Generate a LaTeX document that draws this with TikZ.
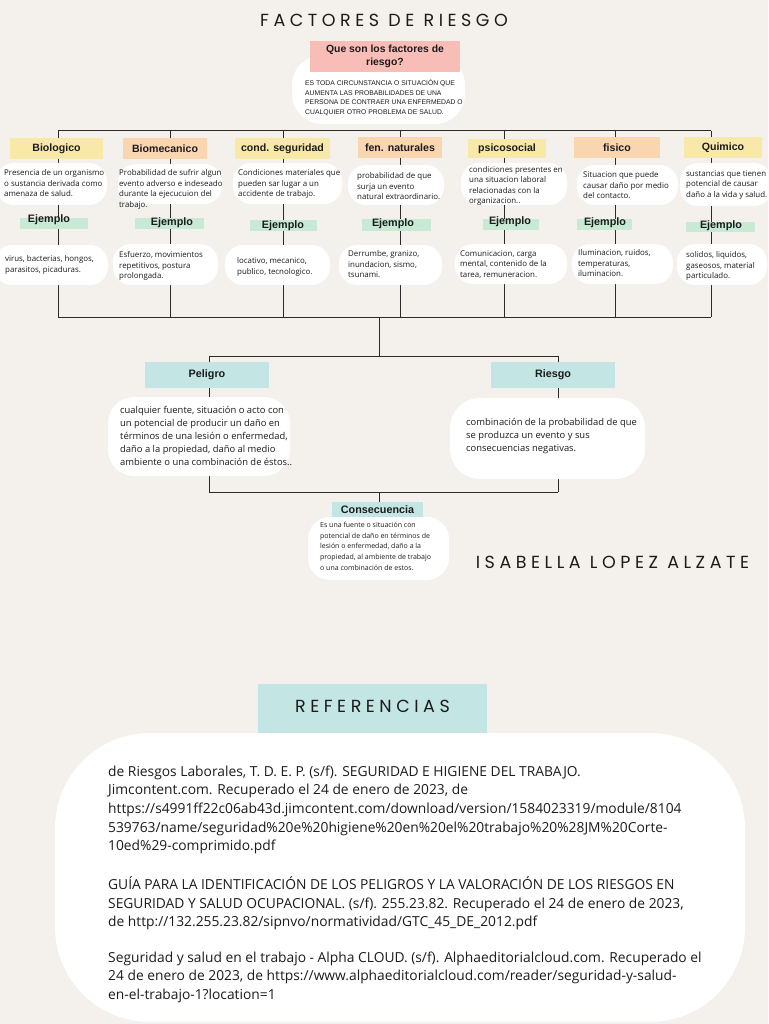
\documentclass[tikz,border=0pt]{standalone}
\usepackage{fontspec}
\setmainfont{Open Sans}
\newfontfamily\labfont{Liberation Sans}
\newfontfamily\widefont[LetterSpace=26]{Poppins}
\definecolor{bg}{HTML}{F4F0EB}
\definecolor{yel}{HTML}{F8E9A9}
\definecolor{pch}{HTML}{F9D5B0}
\definecolor{pnk}{HTML}{F8BDB6}
\definecolor{mnt}{HTML}{C8EAD5}
\definecolor{tel}{HTML}{C3E5E3}
\definecolor{lnc}{HTML}{2A2A2A}
\definecolor{ink}{HTML}{1C1C1C}
\newcommand{\mkbox}[7]{\node[#6, minimum width={#4-#2}, minimum height={#5-#3}] (#1) at ({(#2+#4)/2},{(#3+#5)/2}) {#7};}
\tikzset{
  ln/.style={draw=lnc, line width=1pt},
  cat/.style={inner sep=0, text=ink, font=\labfont\bfseries\fontsize{10.6}{12}\selectfont},
  lab/.style={inner sep=0, text=ink, font=\labfont\bfseries\fontsize{10.8}{12}\selectfont},
  blob/.style={fill=white, inner sep=0, rounded corners=18pt},
  ejbox/.style={fill=mnt, inner sep=0},
  ejtext/.style={inner sep=0, text=ink, font=\labfont\bfseries\fontsize{10.8}{12}\selectfont},
  txt/.style={inner sep=0, anchor=north west, align=left, text=ink, font=\fontsize{7.9}{10.6}\selectfont},
  midtxt/.style={inner sep=0, anchor=north west, align=left, text=ink, font=\fontsize{9.4}{13}\selectfont},
  smtxt/.style={inner sep=0, anchor=north west, align=left, text=ink, font=\fontsize{7}{10.7}\selectfont},
  captxt/.style={inner sep=0, anchor=north west, align=left, text=ink, font=\labfont\fontsize{6.8}{9.6}\selectfont},
  reftxt/.style={inner sep=0, anchor=north west, align=left, text=ink, font=\fontsize{13.8}{18.6}\selectfont},
  wide/.style={inner sep=0, text=ink, font=\widefont\fontsize{17.5}{19}\selectfont},
}
\begin{document}
\begin{tikzpicture}[x=1pt,y=-1pt]
\fill[bg] (0,0) rectangle (768,1024);
\useasboundingbox (0,0) rectangle (768,1024);

% ---------- connector coordinates ----------
\foreach \i/\x in {1/58,2/170,3/283,4/400,5/504,6/615,7/711}{
  \coordinate (tb\i) at (\x,131);
  \coordinate (bb\i) at (\x,317);
}
\coordinate (mid1) at (379,317);
\coordinate (mid2) at (379,356);
\coordinate (hL) at (209,356);
\coordinate (hR) at (558,356);
\coordinate (gL) at (209,492);
\coordinate (gR) at (558,492);
\coordinate (gM) at (379,492);

\draw[ln] (tb1) -- (tb7);
\draw[ln] (bb1) -- (bb7);
\foreach \i in {1,...,7}{ \draw[ln] (tb\i) -- (bb\i); }
\draw[ln] (mid1) -- (mid2);
\draw[ln] (hL) -- (hR);
\draw[ln] (hL) -- (gL);
\draw[ln] (hR) -- (gR);
\draw[ln] (gL) -- (gR);

% ---------- title ----------
\node[wide] (title) at (384,20) {FACTORES DE RIESGO};

% ---------- definition ----------
\mkbox{defblob}{292}{55}{465}{124}{blob, rounded corners=30pt}{}
\mkbox{q}{310}{41}{460}{72}{fill=pnk, inner sep=0, align=center, text=ink, font=\labfont\bfseries\fontsize{10.4}{13.5}\selectfont}{Que son los factores de\\riesgo?}
\node[captxt] (deft) at (305,79.5) {ES TODA CIRCUNSTANCIA O SITUACIÓN QUE\\AUMENTA LAS PROBABILIDADES DE UNA\\PERSONA DE CONTRAER UNA ENFERMEDAD O\\CUALQUIER OTRO PROBLEMA DE SALUD.};

% ---------- categories ----------
\mkbox{c1}{10}{138}{103}{159}{cat, fill=yel}{Biologico}
\mkbox{c2}{123}{138}{207}{159}{cat, fill=pch}{Biomecanico}
\mkbox{c3}{235}{138}{330}{159}{cat, fill=yel}{cond. seguridad}
\mkbox{c4}{358}{137}{442}{158}{cat, fill=pch}{fen. naturales}
\mkbox{c5}{468}{139}{546}{158}{cat, fill=yel}{psicosocial}
\mkbox{c6}{574}{137}{660}{158}{cat, fill=pch}{fisico}
\mkbox{c7}{684}{137}{762}{158}{cat, fill=yel}{Quimico}

% ---------- descriptions ----------
\mkbox{d1}{-4}{163}{107}{205}{blob}{}
\mkbox{d2}{118}{164}{222}{204}{blob}{}
\mkbox{d3}{233}{163}{342}{204}{blob}{}
\mkbox{d4}{348}{165}{444}{205}{blob}{}
\mkbox{d5}{461}{163}{567}{205}{blob}{}
\mkbox{d6}{577}{165}{678}{205}{blob}{}
\mkbox{d7}{680}{163}{772}{206}{blob}{}
\node[txt] (d1t) at (4,169.4) {Presencia de un organismo\\o sustancia derivada como\\amenaza de salud.};
\node[txt] (d2t) at (119,169.4) {Probabilidad de sufrir algun\\evento adverso e indeseado\\durante la ejecucuion del\\trabajo.};
\node[txt] (d3t) at (238,169.4) {Condiciones materiales que\\pueden sar lugar a un\\accidente de trabajo.};
\node[txt] (d4t) at (357,172.4) {probabilidad de que\\surja un evento\\natural extraordinario.};
\node[txt] (d5t) at (469,165.9) {condiciones presentes en\\una situacion laboral\\relacionadas con la\\organizacion..};
\node[txt] (d6t) at (583,171.4) {Situacion que puede\\causar daño por medio\\del contacto.};
\node[txt] (d7t) at (686,170.4) {sustancias que tienen\\potencial de causar\\daño a la vida y salud.};

% ---------- ejemplo ----------
\mkbox{e1}{20}{218}{88}{229}{ejbox}{}
\mkbox{e2}{135}{218}{204}{229}{ejbox}{}
\mkbox{e3}{250}{220}{317}{231}{ejbox}{}
\mkbox{e4}{362}{219}{431}{231}{ejbox}{}
\mkbox{e5}{483}{219}{539}{230}{ejbox}{}
\mkbox{e6}{577}{219}{632}{230}{ejbox}{}
\mkbox{e7}{686}{222}{755}{232}{ejbox}{}
\node[ejtext] (e1t) at (49,220) {Ejemplo};
\node[ejtext] (e2t) at (172,223) {Ejemplo};
\node[ejtext] (e3t) at (283,226) {Ejemplo};
\node[ejtext] (e4t) at (393,224) {Ejemplo};
\node[ejtext] (e5t) at (510,222) {Ejemplo};
\node[ejtext] (e6t) at (605,223) {Ejemplo};
\node[ejtext] (e7t) at (721,226) {Ejemplo};

% ---------- examples ----------
\mkbox{x1}{-6}{245}{108}{285}{blob}{}
\mkbox{x2}{113}{244}{218}{285}{blob}{}
\mkbox{x3}{225}{245}{330}{285}{blob}{}
\mkbox{x4}{339}{245}{442}{285}{blob}{}
\mkbox{x5}{455}{244}{567}{284}{blob}{}
\mkbox{x6}{572}{244}{673}{284}{blob}{}
\mkbox{x7}{677}{244}{767}{285}{blob}{}
\node[txt] (x1t) at (5,255.4) {virus, bacterias, hongos,\\parasitos, picaduras.};
\node[txt] (x2t) at (119,251.4) {Esfuerzo, movimientos\\repetitivos, postura\\prolongada.};
\node[txt] (x3t) at (237,257.4) {locativo, mecanico,\\publico, tecnologico.};
\node[txt] (x4t) at (348,250.4) {Derrumbe, granizo,\\inundacion, sismo,\\tsunami.};
\node[txt] (x5t) at (460,250.4) {Comunicacion, carga\\mental, contenido de la\\tarea, remuneracion.};
\node[txt] (x6t) at (578,249.4) {Iluminacion, ruidos,\\temperaturas,\\iluminacion.};
\node[txt] (x7t) at (686,251.4) {solidos, liquidos,\\gaseosos, material\\particulado.};

% ---------- peligro / riesgo ----------
\mkbox{pel}{145}{362}{269}{388}{lab, fill=tel}{Peligro}
\mkbox{rie}{491}{362}{615}{388}{lab, fill=tel}{Riesgo}
\mkbox{pelb}{108}{397}{290}{476}{blob, rounded corners=26pt}{}
\mkbox{rieb}{450}{398}{645}{479}{blob, rounded corners=30pt}{}
\node[midtxt] (pelt) at (120,405.8) {cualquier fuente, situación o acto con\\un potencial de producir un daño en\\términos de una lesión o enfermedad,\\daño a la propiedad, daño al medio\\ambiente o una combinación de éstos..};
\node[midtxt] (riet) at (466,417.8) {combinación de la probabilidad de que\\se produzca un evento y sus\\consecuencias negativas.};

% ---------- consecuencia ----------
\draw[ln] (gM) -- (379,502);
\mkbox{conb}{308}{517}{449}{580}{blob, rounded corners=22pt}{}
\mkbox{con}{332}{502}{423}{517}{lab, fill=tel}{Consecuencia}
\node[smtxt] (cont) at (320,521.8) {Es una fuente o situación con\\potencial de daño en términos de\\lesión o enfermedad, daño a la\\propiedad, al ambiente de trabajo\\o una combinación de estos.};

% ---------- author ----------
\node[wide] (author) at (612.5,562) {ISABELLA LOPEZ ALZATE};

% ---------- references ----------
\mkbox{refb}{55}{733}{745}{1022}{blob, rounded corners=95pt}{}
\mkbox{refh}{258}{684}{487}{733}{fill=tel, inner sep=0}{}
\node[wide] (reft) at (372.5,706) {REFERENCIAS};
\node[reftxt] (r1) at (108,765.5) {de Riesgos Laborales, T. D. E. P. (s/f). SEGURIDAD E HIGIENE DEL TRABAJO.\\Jimcontent.com. Recuperado el 24 de enero de 2023, de\\https://s4991ff22c06ab43d.jimcontent.com/download/version/1584023319/module/8104\\539763/name/seguridad\%20e\%20higiene\%20en\%20el\%20trabajo\%20\%28JM\%20Corte-\\10ed\%29-comprimido.pdf};
\node[reftxt] (r2) at (108,876.5) {GUÍA PARA LA IDENTIFICACIÓN DE LOS PELIGROS Y LA VALORACIÓN DE LOS RIESGOS EN\\SEGURIDAD Y SALUD OCUPACIONAL. (s/f). 255.23.82. Recuperado el 24 de enero de 2023,\\de http://132.255.23.82/sipnvo/normatividad/GTC\_45\_DE\_2012.pdf};
\node[reftxt] (r3) at (108,951.5) {Seguridad y salud en el trabajo - Alpha CLOUD. (s/f). Alphaeditorialcloud.com. Recuperado el\\24 de enero de 2023, de https://www.alphaeditorialcloud.com/reader/seguridad-y-salud-\\en-el-trabajo-1?location=1};
\end{tikzpicture}
\end{document}
